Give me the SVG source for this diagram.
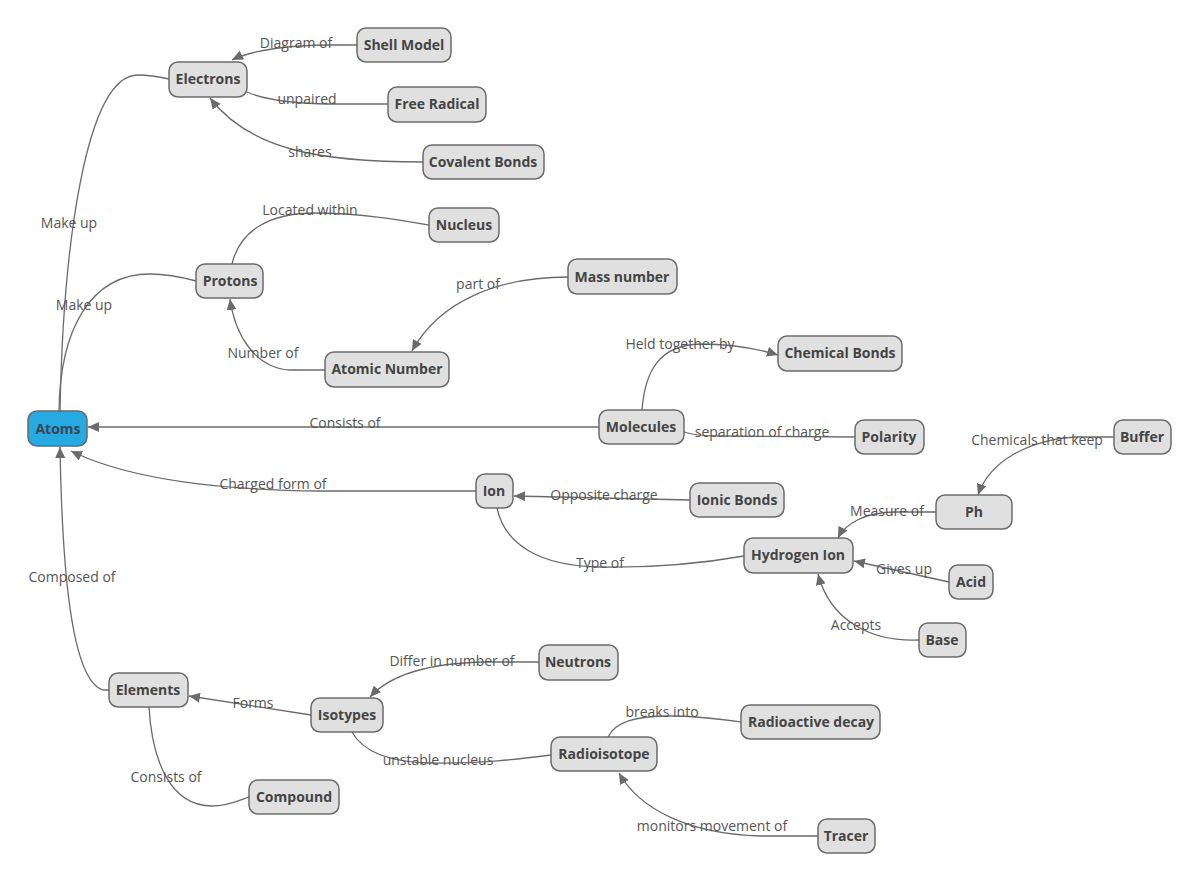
<svg xmlns="http://www.w3.org/2000/svg" width="1200" height="882" viewBox="0 0 1200 882">
<style>
.n rect{fill:#e0e0e0;stroke:#6b6b6b;stroke-width:1.5}
.n text{font-family:"Open Sans","Noto Sans",sans-serif;font-weight:bold;font-size:14px;fill:#444;text-anchor:middle}
#atoms rect{fill:#27a9e1;stroke:#5f6b75}
#atoms text{fill:#3a4652}
.c path{fill:none;stroke:#6b6b6b;stroke-width:1.3}
.c .a{marker-end:url(#ah)}
.l text{font-family:"Open Sans","Noto Sans",sans-serif;font-size:14px;fill:#555;text-anchor:middle}
</style>
<defs>
<marker id="ah" markerUnits="userSpaceOnUse" markerWidth="12" markerHeight="10" refX="11" refY="5" orient="auto">
<path d="M0,0 L11,5 L0,10 Z" fill="#6b6b6b"/>
</marker>
</defs>
<rect width="1200" height="882" fill="#fff"/>
<g class="c" id="connectors">
<path class="a" d="M357,45 L330,45 C290,45 252,50 232,60"/>
<path d="M247,92 C265,100 300,104 340,104 L388,104"/>
<path class="a" d="M423,162 C320,162 250,150 210,98"/>
<path d="M60,411 C63,250 85,75 138,75 C150,75 160,77 169,79"/>
<path d="M59,411 C60,330 90,274 150,274 C170,274 185,278 196,281"/>
<path d="M232,264 C240,230 270,213 315,213 C360,213 400,220 429,225"/>
<path class="a" d="M325,370 L290,370 C255,368 235,335 230,299"/>
<path class="a" d="M568,277 C500,277 440,300 412,351"/>
<path class="a" d="M599,427 L88,427"/>
<path class="a" d="M642,410 C645,370 660,345 700,344 C730,344 755,348 778,355"/>
<path d="M684,432 C690,434 700,436 720,436 L855,437"/>
<path class="a" d="M476,491 L320,491 C220,490 130,480 71,451"/>
<path class="a" d="M690,500 L514,496"/>
<path d="M497,508 C505,545 540,566 600,567 C660,568 710,562 744,556"/>
<path class="a" d="M936,512 L895,512 C865,512 845,524 838,538"/>
<path class="a" d="M1114,437 L1075,437 C1030,440 990,460 978,495"/>
<path class="a" d="M949,582 L854,561"/>
<path class="a" d="M919,640 C870,642 830,620 818,574"/>
<path class="a" d="M109,690 L103,690 C70,680 62,560 60,447"/>
<path class="a" d="M311,715 L189,696"/>
<path class="a" d="M539,662 L485,662 C430,663 390,675 370,697"/>
<path d="M149,707 C152,760 170,806 212,806 C228,806 240,800 249,797"/>
<path d="M352,732 C362,750 385,762 430,763 C480,764 520,759 551,755"/>
<path d="M608,737 C615,722 635,716 670,716 C700,716 720,719 741,722"/>
<path class="a" d="M818,836 L760,836 C690,834 640,810 619,773"/>
</g>
<g class="l" id="labels">
<text x="296" y="48">Diagram of</text>
<text x="307" y="104">unpaired</text>
<text x="310" y="157">shares</text>
<text x="69" y="228">Make up</text>
<text x="84" y="310">Make up</text>
<text x="310" y="215">Located within</text>
<text x="263" y="358">Number of</text>
<text x="478" y="289">part of</text>
<text x="345" y="428">Consists of</text>
<text x="680" y="349">Held together by</text>
<text x="762" y="437">separation of charge</text>
<text x="1037" y="445">Chemicals that keep</text>
<text x="273" y="489">Charged form of</text>
<text x="604" y="500">Opposite charge</text>
<text x="887" y="516">Measure of</text>
<text x="600" y="568">Type of</text>
<text x="904" y="574">Gives up</text>
<text x="856" y="630">Accepts</text>
<text x="72" y="582">Composed of</text>
<text x="452" y="666">Differ in number of</text>
<text x="253" y="708">Forms</text>
<text x="662" y="717">breaks into</text>
<text x="438" y="765">unstable nucleus</text>
<text x="166" y="782">Consists of</text>
<text x="712" y="831">monitors movement of</text>
</g>
<g class="n" id="shell-model"><rect x="357" y="28" width="94" height="34" rx="9"/><text x="404" y="50">Shell Model</text></g>
<g class="n" id="electrons"><rect x="169" y="62" width="78" height="35" rx="9"/><text x="208" y="84">Electrons</text></g>
<g class="n" id="free-radical"><rect x="388" y="87" width="98" height="35" rx="9"/><text x="437" y="109">Free Radical</text></g>
<g class="n" id="covalent-bonds"><rect x="423" y="145" width="121" height="34" rx="9"/><text x="483" y="167">Covalent Bonds</text></g>
<g class="n" id="nucleus"><rect x="429" y="208" width="70" height="34" rx="9"/><text x="464" y="230">Nucleus</text></g>
<g class="n" id="protons"><rect x="196" y="264" width="67" height="34" rx="9"/><text x="230" y="286">Protons</text></g>
<g class="n" id="mass-number"><rect x="568" y="259" width="109" height="35" rx="9"/><text x="622" y="282">Mass number</text></g>
<g class="n" id="atomic-number"><rect x="325" y="352" width="124" height="35" rx="9"/><text x="387" y="374">Atomic Number</text></g>
<g class="n" id="chemical-bonds"><rect x="778" y="336" width="124" height="35" rx="9"/><text x="840" y="358">Chemical Bonds</text></g>
<g class="n" id="atoms"><rect x="28" y="411" width="59" height="35" rx="9"/><text x="58" y="434">Atoms</text></g>
<g class="n" id="molecules"><rect x="599" y="410" width="85" height="34" rx="9"/><text x="641" y="432">Molecules</text></g>
<g class="n" id="polarity"><rect x="855" y="420" width="69" height="34" rx="9"/><text x="889" y="442">Polarity</text></g>
<g class="n" id="buffer"><rect x="1114" y="420" width="57" height="34" rx="9"/><text x="1142" y="442">Buffer</text></g>
<g class="n" id="ion"><rect x="476" y="474" width="37" height="34" rx="9"/><text x="494" y="496">Ion</text></g>
<g class="n" id="ionic-bonds"><rect x="690" y="483" width="94" height="34" rx="9"/><text x="737" y="505">Ionic Bonds</text></g>
<g class="n" id="ph"><rect x="936" y="495" width="76" height="34" rx="9"/><text x="974" y="517">Ph</text></g>
<g class="n" id="hydrogen-ion"><rect x="744" y="538" width="109" height="35" rx="9"/><text x="798" y="560">Hydrogen Ion</text></g>
<g class="n" id="acid"><rect x="949" y="565" width="44" height="34" rx="9"/><text x="971" y="587">Acid</text></g>
<g class="n" id="base"><rect x="919" y="623" width="47" height="34" rx="9"/><text x="942" y="645">Base</text></g>
<g class="n" id="neutrons"><rect x="539" y="645" width="79" height="35" rx="9"/><text x="578" y="667">Neutrons</text></g>
<g class="n" id="elements"><rect x="109" y="673" width="79" height="34" rx="9"/><text x="148" y="695">Elements</text></g>
<g class="n" id="isotypes"><rect x="311" y="698" width="72" height="34" rx="9"/><text x="347" y="720">Isotypes</text></g>
<g class="n" id="radioactive-decay"><rect x="741" y="705" width="139" height="34" rx="9"/><text x="811" y="727">Radioactive decay</text></g>
<g class="n" id="radioisotope"><rect x="551" y="737" width="106" height="34" rx="9"/><text x="604" y="759">Radioisotope</text></g>
<g class="n" id="compound"><rect x="249" y="780" width="90" height="34" rx="9"/><text x="294" y="802">Compound</text></g>
<g class="n" id="tracer"><rect x="818" y="819" width="57" height="34" rx="9"/><text x="846" y="841">Tracer</text></g>
</svg>
